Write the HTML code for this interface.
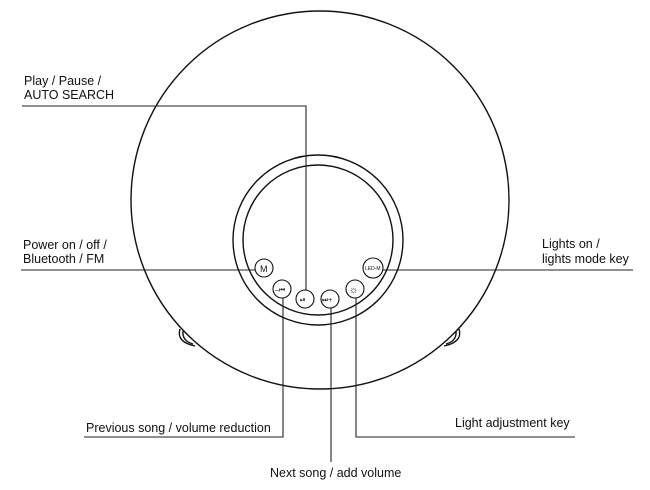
<!DOCTYPE html>
<html><head><style>
body{margin:0;background:#fff;}
svg{display:block;}
text{font-family:"Liberation Sans",Arial,sans-serif;font-size:12.5px;fill:#111;}
</style></head><body>
<svg width="650" height="490" viewBox="0 0 650 490" xmlns="http://www.w3.org/2000/svg">
<g fill="none" stroke="#111" stroke-width="1.4">
<circle cx="320" cy="200" r="189"/>
<circle cx="318" cy="240" r="85"/>
<circle cx="318" cy="240" r="75"/>
<!-- feet -->
<path d="M180 329 Q176 342 195 346"/>
<path d="M183 331 Q182 341 193 344"/>
<path d="M459 329 Q463 342 444 346"/>
<path d="M456 331 Q457 341 446 344"/>
</g>
<g fill="none" stroke="#222" stroke-width="1.1">
<polyline points="22,106 306,106 306,290"/>
<line x1="21" y1="270" x2="255" y2="270"/>
<line x1="382" y1="270" x2="633" y2="270"/>
<polyline points="84,437 283,437 283,298"/>
<line x1="331" y1="308" x2="331" y2="462"/>
<polyline points="356,298 356,437 575,437"/>
</g>
<g fill="#fff" stroke="#111" stroke-width="1.1">
<circle cx="264" cy="268" r="9"/>
<circle cx="282" cy="289" r="9"/>
<circle cx="305" cy="299" r="9"/>
<circle cx="330" cy="299" r="9"/>
<circle cx="355" cy="289" r="9"/>
<circle cx="373" cy="268" r="10"/>
</g>
<g style="font-size:8px">
<text x="260" y="272" style="font-size:9px">M</text>
<text x="275" y="292" style="font-size:7px">–⏮</text>
<text x="300" y="302" style="font-size:7px">⏯</text>
<text x="322" y="302" style="font-size:7px">⏭+</text>
<text x="349" y="293" style="font-size:10px">☼</text>
<text x="365" y="270" style="font-size:5px">LED-M</text>
</g>
<text x="24" y="85">Play / Pause /</text>
<text x="24" y="99">AUTO SEARCH</text>
<text x="23" y="249">Power on / off /</text>
<text x="23" y="263">Bluetooth / FM</text>
<text x="542" y="248">Lights on /</text>
<text x="542" y="263">lights mode key</text>
<text x="86" y="432">Previous song / volume reduction</text>
<text x="455" y="427">Light adjustment key</text>
<text x="270" y="477">Next song / add volume</text>
</svg>
</body></html>
